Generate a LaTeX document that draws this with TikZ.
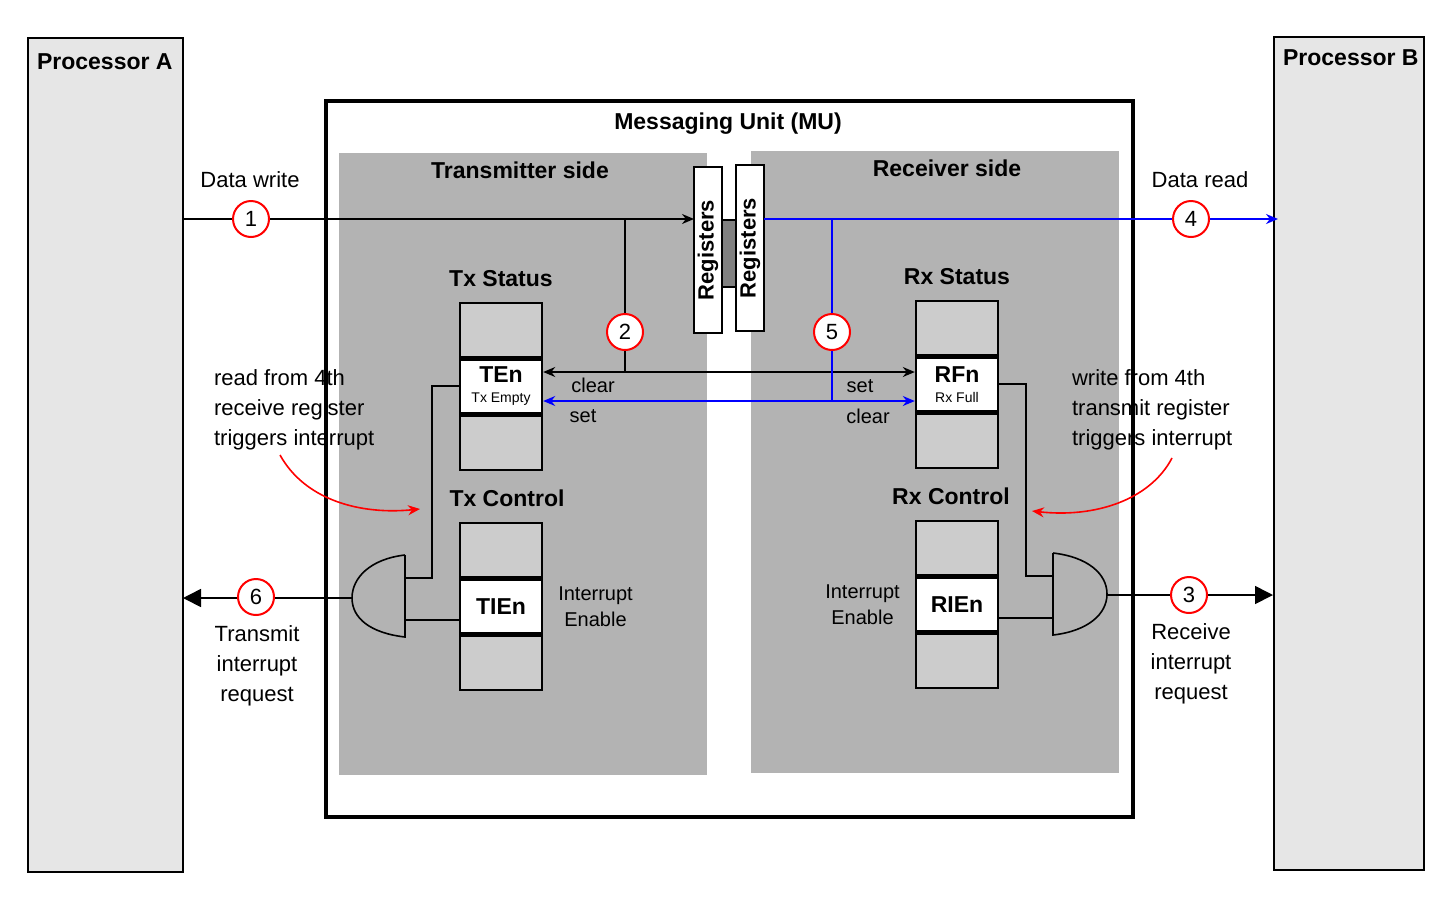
\documentclass[tikz,border=0pt]{standalone}
\usepackage{fontspec}
\setmainfont{Liberation Sans}
\usetikzlibrary{arrows.meta,positioning,calc}
\definecolor{procgray}{HTML}{E6E6E6}
\definecolor{sidegray}{HTML}{B3B3B3}
\definecolor{cellgray}{HTML}{CCCCCC}
\begin{document}
\begin{tikzpicture}[x=0.5pt, y=-0.5pt, >={Stealth[length=6pt,width=5pt]}]
\tikzstyle{proc}=[draw, thick, fill=procgray]
\tikzstyle{sidebg}=[fill=sidegray]
\tikzstyle{reg}=[draw, line width=1.2pt, fill=white, minimum width=83pt, minimum height=14pt, inner sep=0pt, rotate=90, font=\bfseries\fontsize{11}{12}\selectfont]
\tikzstyle{cell}=[draw, line width=1.2pt, fill=cellgray, minimum width=41pt, minimum height=27pt, inner sep=0pt]
\tikzstyle{bit}=[cell, fill=white, align=center]
\tikzstyle{stepno}=[circle, draw=red, line width=1pt, fill=white, minimum size=18pt, inner sep=0pt, font=\fontsize{11}{12}\selectfont]
\tikzstyle{ttl}=[font=\bfseries\fontsize{11.5}{13}\selectfont]
\tikzstyle{lbl}=[font=\fontsize{11}{15}\selectfont, align=center]
\tikzstyle{arr}=[line width=0.8pt]
\useasboundingbox (0,0) rectangle (1438,900);

% processors and MU
\draw[proc] (28,38) rectangle (183,872);
\draw[proc] (1274,37) rectangle (1424,870);
\node[ttl, anchor=west] at (30,62) {Processor A};
\node[ttl, anchor=west] at (1276,58) {Processor B};
\draw[line width=2pt] (326,101) rectangle (1133,817);
\node[ttl] at (728,124) {Messaging Unit (MU)};
\fill[sidebg] (339,153) rectangle (707,775);
\fill[sidebg] (751,151) rectangle (1119,773);
\node[ttl] at (520,170) {Transmitter side};
\node[ttl] at (947,168) {Receiver side};

% registers
\fill[gray] (722,220) rectangle (736,287);
\draw[thick] (722,220) rectangle (736,287);
\node[reg] (regTx) at (708,250) {Registers};
\node[reg] (regRx) at (750,248) {Registers};

% status and control registers
\node[cell] (ts1) at (501,330) {};
\node[bit, below=0pt of ts1] (TEn) {\bfseries\fontsize{11.5}{12}\selectfont TEn\\[-2pt]\fontsize{7}{8}\selectfont Tx Empty};
\node[cell, below=0pt of TEn] (ts3) {};
\node[ttl, above=4pt of ts1] {Tx Status};
\node[cell] (rs1) at (957,328) {};
\node[bit, below=0pt of rs1] (RFn) {\bfseries\fontsize{11.5}{12}\selectfont RFn\\[-2pt]\fontsize{7}{8}\selectfont Rx Full};
\node[cell, below=0pt of RFn] (rs3) {};
\node[ttl, above=4pt of rs1] {Rx Status};
\node[cell] (tc1) at (501,550) {};
\node[bit, below=0pt of tc1, font=\bfseries\fontsize{11.5}{12}\selectfont] (TIEn) {TIEn};
\node[cell, below=0pt of TIEn] (tc3) {};
\node[ttl, above=4pt of tc1, xshift=3pt] {Tx Control};
\node[cell] (rc1) at (957,548) {};
\node[bit, below=0pt of rc1, font=\bfseries\fontsize{11.5}{12}\selectfont] (RIEn) {RIEn};
\node[cell, below=0pt of RIEn] (rc3) {};
\node[ttl, above=4pt of rc1, xshift=-3pt] {Rx Control};
\node[lbl, right=4pt of TIEn, font=\fontsize{10}{13}\selectfont] {Interrupt\\Enable};
\node[lbl, left=4pt of RIEn, font=\fontsize{10}{13}\selectfont] {Interrupt\\Enable};

% data paths
\coordinate (aOut) at (183,219);
\coordinate (bIn) at (1278,219);
\coordinate (regTxIn) at ($(regTx.center |- aOut)+(-14,0)$);
\coordinate (regRxOut) at ($(regRx.center |- bIn)+(14,0)$);
\draw[arr,->] (aOut) -- (regTxIn);
\node[stepno] at (251,219) {1};
\node[lbl] at (250,180) {Data write};
\draw[arr,blue,->] (regRxOut) -- (bIn);
\node[stepno] at (1191,219) {4};
\node[lbl] at (1200,180) {Data read};

% status flag paths
\coordinate (j2) at (625,219);
\coordinate (j5) at (832,219);
\draw[arr] (j2) -- (625,372);
\draw[arr,<->] (TEn.east |- 0,372) -- (RFn.west |- 0,372);
\node[stepno] at (625,332) {2};
\draw[arr,blue] (j5) -- (832,401);
\draw[arr,blue,<->] (TEn.east |- 0,401) -- (RFn.west |- 0,401);
\node[stepno] at (832,332) {5};
\node[lbl, font=\fontsize{10}{12}\selectfont] at (593,385) {clear};
\node[lbl, font=\fontsize{10}{12}\selectfont] at (583,416) {set};
\node[lbl, font=\fontsize{10}{12}\selectfont] at (860,386) {set};
\node[lbl, font=\fontsize{10}{12}\selectfont] at (868,416) {clear};

% AND gates
\draw[thick] (405,555) -- (405,637) .. controls (370,633) and (352,618) .. (352,598) .. controls (352,578) and (370,559) .. (405,555);
\coordinate (tGate) at (352,598);
\draw[thick] (1053,553) -- (1053,635) .. controls (1088,631) and (1107,614) .. (1107,594) .. controls (1107,574) and (1088,557) .. (1053,553);
\coordinate (rGate) at (1107,594);
\draw[thick] (TEn.west |- 0,386) -- (432,386) -- (432,578) -- (405,578);
\draw[thick] (TIEn.west |- 0,620) -- (405,620);
\draw[thick] (RFn.east |- 0,384) -- (1026,384) -- (1026,576) -- (1053,576);
\draw[thick] (RIEn.east |- 0,618) -- (1053,618);
\coordinate (aIrq) at (183,598);
\coordinate (bIrq) at (1273,595);
\draw[thick,-{Triangle[length=9pt,width=9pt]}] (tGate) -- (aIrq);
\node[stepno] at (256,597) {6};
\node[lbl] at (257,666) {Transmit\\interrupt\\request};
\draw[thick,-{Triangle[length=9pt,width=9pt]}] (rGate |- bIrq) -- (bIrq);
\node[stepno] at (1189,595) {3};
\node[lbl] at (1191,664) {Receive\\interrupt\\request};

% interrupt notes
\node[lbl, align=left, anchor=north west] (noteA) at (207,362) {read from 4th\\receive register\\triggers interrupt};
\node[lbl, align=left, anchor=north west] (noteB) at (1065,362) {write from 4th\\transmit register\\triggers interrupt};
\draw[red, thick, ->] (280,455) .. controls (305,500) and (360,515) .. (420,509);
\draw[red, thick, ->] (1172,458) .. controls (1150,500) and (1095,518) .. (1032,511);
\end{tikzpicture}
\end{document}
